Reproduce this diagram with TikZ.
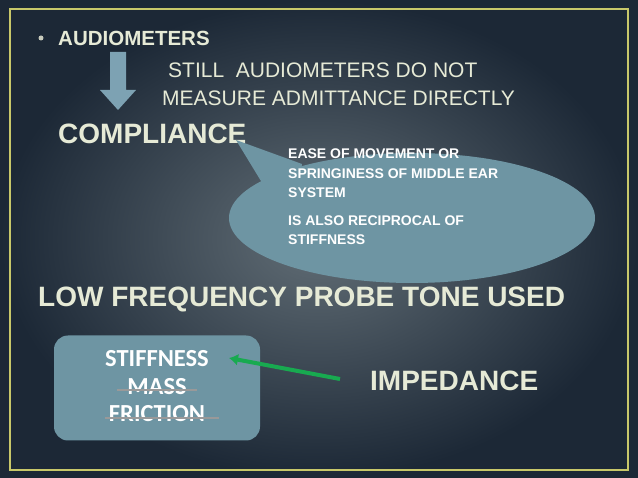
\documentclass[tikz,border=0pt]{standalone}
\usepackage{fontspec}
\setmainfont{Liberation Sans}
\newfontfamily\carlitofont{Carlito}
\usetikzlibrary{shapes.geometric,arrows.meta}
\definecolor{txt}{HTML}{E6EAD6}
\definecolor{teal}{HTML}{6E95A3}
\definecolor{frame}{HTML}{C8C86A}
\definecolor{arr}{HTML}{7DA2B3}
\tikzset{lbl/.style={anchor=west,text=txt,inner sep=0pt,font=\bfseries},
 ctext/.style={anchor=north west,text=white,inner sep=0pt,font=\fontsize{14}{19.5}\selectfont\bfseries,align=left},
 boxt/.style={text=white,inner sep=0pt,font=\carlitofont\fontsize{24.5}{24.5}\selectfont\bfseries},
 strike/.style={draw=gray!80,line width=1.6pt}}
\begin{document}
\begin{tikzpicture}[x=1pt,y=-1pt]
\useasboundingbox (0,0) rectangle (638,478);
\shade[inner color={rgb,255:red,98;green,110;blue,118},outer color={rgb,255:red,28;green,40;blue,54}] (0,0) rectangle (638,478);
\draw[frame,line width=1.2pt] (10,9) rectangle (628,470);
\fill[txt!70!gray] (41,38) circle (2.5);
\node[lbl,font=\fontsize{20.5}{20.5}\selectfont\bfseries] (aud) at (58,38) {AUDIOMETERS};
\node[lbl,font=\fontsize{21}{21}\selectfont] (still) at (168,70) {STILL\ \ AUDIOMETERS DO NOT};
\node[lbl,font=\fontsize{21}{21}\selectfont] (meas) at (162,98) {MEASURE ADMITTANCE DIRECTLY};
\fill[arr] (110,52) -- (126,52) -- (126,90) -- (136,90) -- (118,110) -- (100,90) -- (110,90) -- cycle;
\node[lbl,font=\fontsize{28}{28}\selectfont\bfseries] (comp) at (58,134) {COMPLIANCE};
\coordinate (tip) at (236,140);
\fill[teal] (412,218) ellipse[x radius=183,y radius=65];
\fill[teal] (tip) -- (302,164) -- (292,232) -- cycle;
\node[ctext] (call) at (288,149) {EASE OF MOVEMENT OR\\SPRINGINESS OF MIDDLE EAR\\SYSTEM\\[8pt]IS ALSO RECIPROCAL OF\\STIFFNESS};
\node[lbl,font=\fontsize{28}{28}\selectfont\bfseries] (low) at (38,299) {LOW FREQUENCY PROBE TONE USED};
\node[fill=teal,rounded corners=14pt,minimum width=206,minimum height=105,inner sep=0pt] (box) at (157,388) {};
\node[boxt] (stiff) at (157,359) {STIFFNESS};
\node[boxt] (mass) at (157,387) {MASS};
\node[boxt] (fric) at (157,414) {FRICTION};
\draw[strike] (117,390) -- (197,390);
\draw[strike] (105,418) -- (219,418);
\node[lbl,font=\fontsize{28}{28}\selectfont\bfseries] (imp) at (370,381) {IMPEDANCE};
\coordinate (gs) at (340,379);
\draw[draw={rgb,255:red,24;green,170;blue,80},line width=4pt,-{Latex[length=9pt,width=12pt]}] (gs) -- (229,358);
\end{tikzpicture}
\end{document}
